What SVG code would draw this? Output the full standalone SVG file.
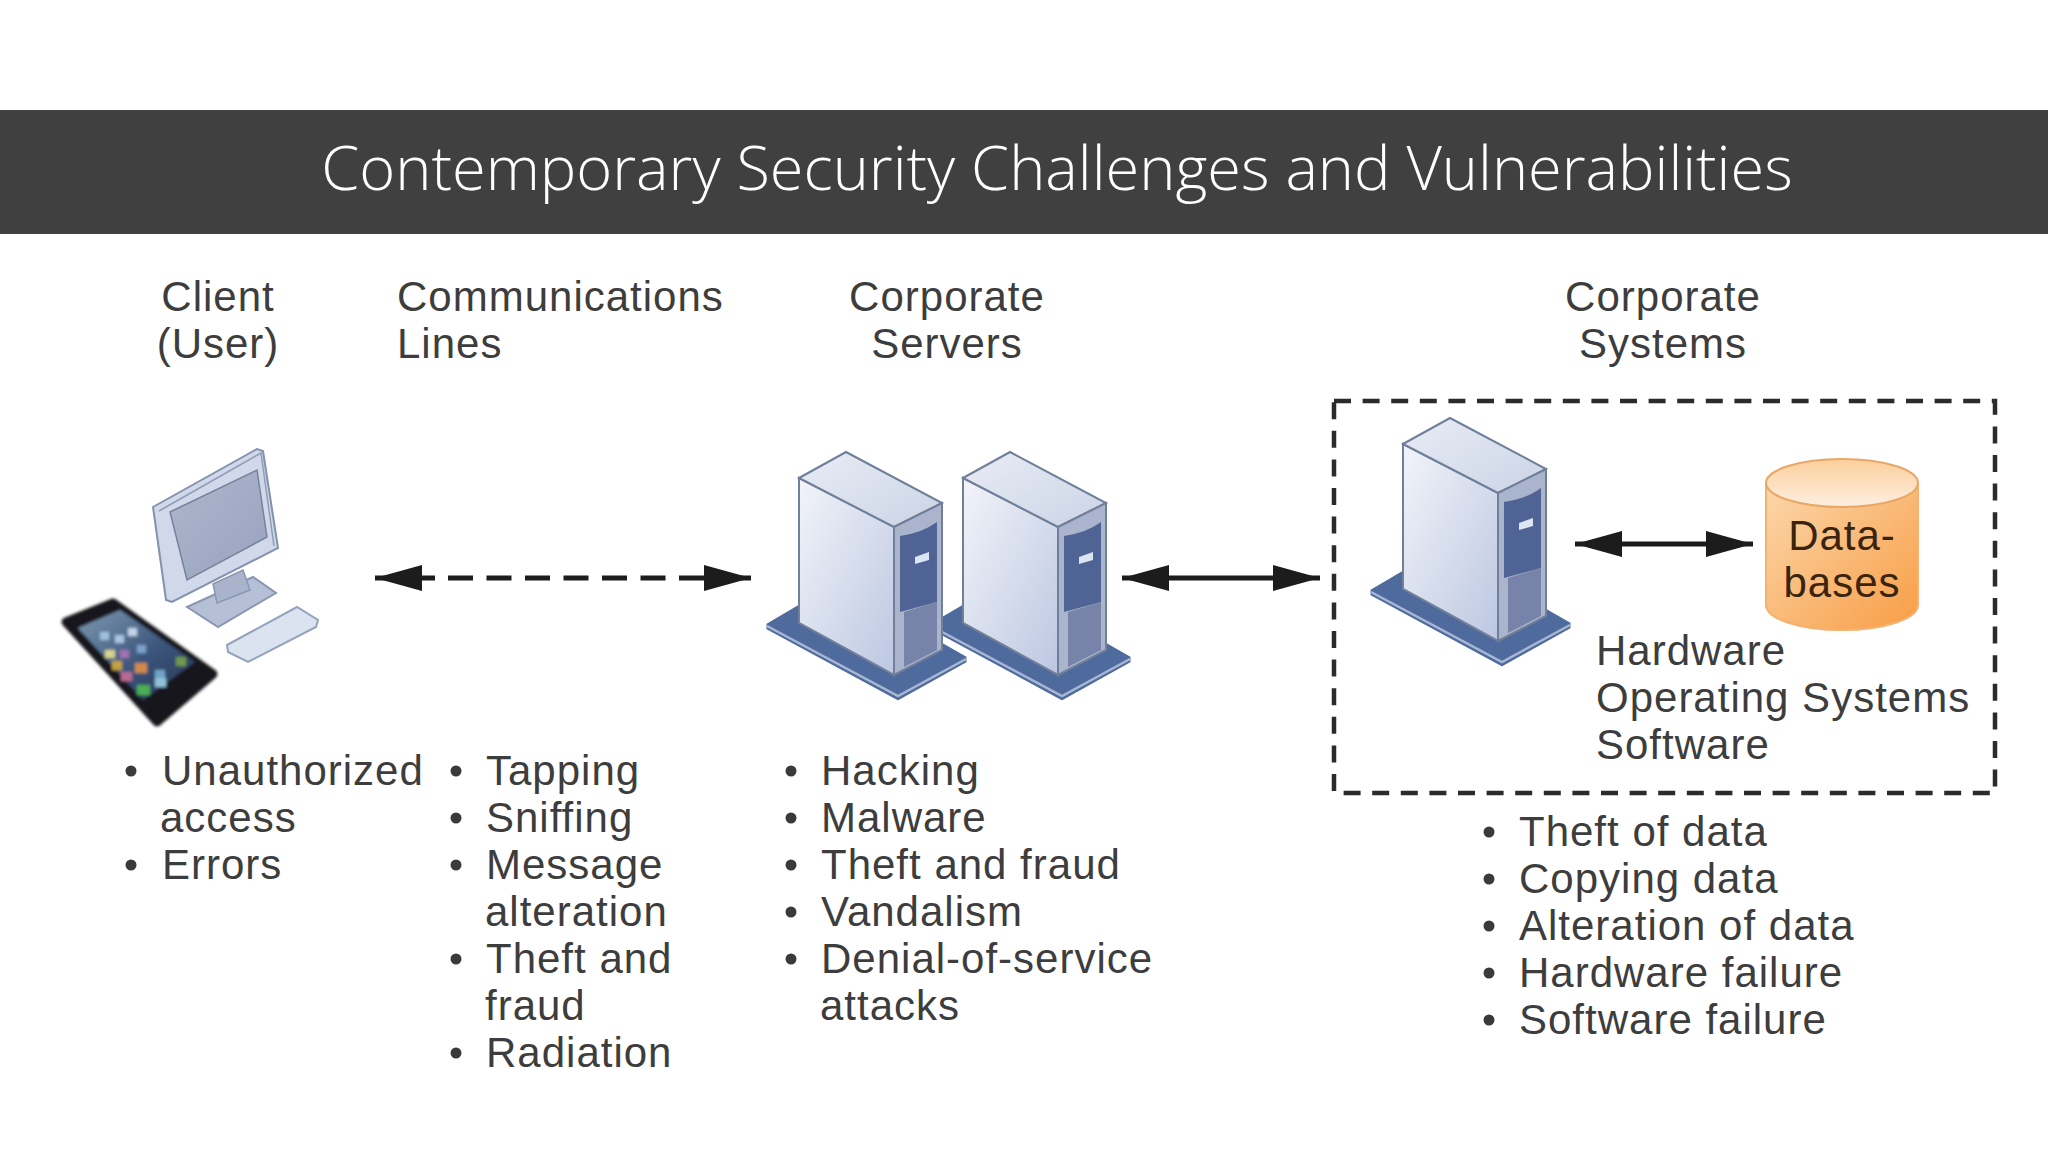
<svg xmlns="http://www.w3.org/2000/svg" width="2048" height="1152" viewBox="0 0 2048 1152">
<style>
.t{font-family:"Liberation Sans",Arial,sans-serif;font-size:42px;fill:#3d3d3d;letter-spacing:1px}
.c{text-anchor:middle}
.title{font-family:"Open Sans","Noto Sans",sans-serif;font-weight:300;font-size:61.3px;fill:#fff;text-anchor:middle}
.b{fill:#3a3a3a}
.conn{stroke:#1c1c1c;stroke-width:5;fill:none}
.o{stroke:#6f7f9a;stroke-width:2}
</style>
<defs>
<linearGradient id="side" x1="0" y1="0" x2="1" y2="1"><stop offset="0" stop-color="#f2f4f9"/><stop offset="1" stop-color="#bcc7e1"/></linearGradient>
<linearGradient id="top" x1="0" y1="0" x2="1" y2="1"><stop offset="0" stop-color="#e8ecf4"/><stop offset="1" stop-color="#cbd4e6"/></linearGradient>
<linearGradient id="db" x1="0" y1="0" x2="1" y2="1"><stop offset="0" stop-color="#fbd7ab"/><stop offset="1" stop-color="#f89d45"/></linearGradient>
<linearGradient id="dbt" x1="0" y1="0" x2="0" y2="1"><stop offset="0" stop-color="#fbcf9c"/><stop offset="1" stop-color="#fdeee0"/></linearGradient>
<linearGradient id="scr" x1="0" y1="0" x2="1" y2="1"><stop offset="0" stop-color="#aeb6cb"/><stop offset="1" stop-color="#98a3bf"/></linearGradient>
<linearGradient id="ph" x1="0" y1="0" x2="1" y2="1"><stop offset="0" stop-color="#7f9ab2"/><stop offset=".55" stop-color="#3c557c"/><stop offset="1" stop-color="#26344f"/></linearGradient>
<filter id="soft" x="-10%" y="-10%" width="120%" height="120%"><feGaussianBlur stdDeviation="1.5"/></filter>
<filter id="soft2" x="-5%" y="-5%" width="110%" height="110%"><feGaussianBlur stdDeviation=".7"/></filter>
<marker id="ah" markerUnits="userSpaceOnUse" markerWidth="50" markerHeight="30" refX="47" refY="14" orient="auto-start-reverse"><path d="M0,1 L47,14 L0,27 Z" fill="#1c1c1c"/></marker>
<g id="server" filter="url(#soft2)">
<path d="M799,603 L765,623 L765,630 L898,702 L968,663 L968,656 L940,640Z" fill="#4f6a9c" stroke="#fff" stroke-width="3" stroke-linejoin="round"/>
<path d="M767,626 L898,696 L966,659" fill="none" stroke="#a7b7d4" stroke-width="2.5"/>
<path d="M799,478 L894,527 L894,675 L799,623Z" fill="url(#side)" class="o"/>
<path d="M799,478 L846,452 L942,503 L894,527Z" fill="url(#top)" class="o"/>
<path d="M894,527 L942,503 L942,650 L894,675Z" fill="#aab4cc" class="o"/>
<path d="M900,536 Q922,533 937,522 L937,602 L900,612Z" fill="#4f6394"/>
<path d="M904,612 L937,602 L937,650 L904,667Z" fill="#7783a8"/>
<path d="M915,557 L929,552 L929,560 L915,564Z" fill="#dbe5f4"/>
</g>
</defs>
<rect width="2048" height="1152" fill="#fff"/>
<rect id="header" x="0" y="110" width="2048" height="124" fill="#404040"/>
<text class="title" x="1057" y="190">Contemporary Security Challenges and Vulnerabilities</text>

<g id="connectors">
<path class="conn" d="M375,578 H751" stroke-dasharray="60 13 25 13.5 25 13.5 25 13.5 25 13.5 25 13.5 25 13.5 80" marker-start="url(#ah)" marker-end="url(#ah)"/>
<path class="conn" d="M1122,578 H1320" marker-start="url(#ah)" marker-end="url(#ah)"/>
<path class="conn" d="M1575,544 H1753" marker-start="url(#ah)" marker-end="url(#ah)"/>
</g>

<g id="client-label"><text class="t c" x="218" y="311">Client</text><text class="t c" x="218" y="358">(User)</text></g>
<g id="comm-label"><text class="t" x="397" y="311">Communications</text><text class="t" x="397" y="358">Lines</text></g>
<g id="servers-label"><text class="t c" x="947" y="311">Corporate</text><text class="t c" x="947" y="358">Servers</text></g>
<g id="systems-label"><text class="t c" x="1663" y="311">Corporate</text><text class="t c" x="1663" y="358">Systems</text></g>

<g id="client">
<g id="monitor" filter="url(#soft2)">
<path d="M187,607 L253,577 L276,593 L218,627Z" fill="#b5bfd6" stroke="#8a97b3" stroke-width="2"/>
<path d="M153,507 L257,449 L263,451 L278,548 L172,602 L166,600Z" fill="#d0d8ea" stroke="#8492ae" stroke-width="2"/>
<path d="M159,511 L261,453 L274,546" fill="none" stroke="#8f9cb8" stroke-width="1.5"/>
<path d="M170,512 L257,470 L267,537 L187,580Z" fill="url(#scr)" stroke="#76829e" stroke-width="1.5"/>
<path d="M213,584 L243,570 L250,590 L217,603Z" fill="#a9b4cc" stroke="#8a97b3" stroke-width="1.5"/>
</g>
<path id="keyboard" d="M227,645 L297,607 L318,620 L316,627 L248,662 L228,652Z" fill="#dbe2f0" stroke="#96a3bd" stroke-width="2"/>
<g id="phone" filter="url(#soft)">
<path d="M66,622 L113,603 L213,674 L157,722Z" fill="#14151a" stroke="#14151a" stroke-width="9" stroke-linejoin="round"/>
<path d="M78,628 L120,610 L195,662 L143,700Z" fill="url(#ph)"/>
<rect x="100" y="632" width="9" height="8" fill="#9fc1dc"/><rect x="115" y="635" width="9" height="8" fill="#a9c6e0"/><rect x="128" y="628" width="9" height="8" fill="#c0d5e6"/>
<rect x="105" y="650" width="10" height="8" fill="#d7d48a"/><rect x="120" y="650" width="9" height="8" fill="#a36fb2"/><rect x="137" y="645" width="9" height="8" fill="#7ca0cb"/>
<rect x="112" y="661" width="10" height="9" fill="#c5a23a"/><rect x="135" y="663" width="12" height="10" fill="#d28b4a"/><rect x="176" y="657" width="10" height="9" fill="#6f9a4a"/>
<rect x="121" y="672" width="11" height="9" fill="#b86a92"/><rect x="155" y="670" width="10" height="9" fill="#6fa3c9"/>
<rect x="137" y="685" width="13" height="10" fill="#4cae55"/><rect x="155" y="678" width="11" height="9" fill="#8fc2d8"/>
</g>
</g>

<g id="servers"><use href="#server" x="164"/><use href="#server"/></g>

<g id="systems">
<rect id="systems-box" x="1334" y="401" width="661" height="392" fill="none" stroke="#2b2b2b" stroke-width="4.5" stroke-dasharray="17 11.6"/>
<use id="system-server" href="#server" x="604" y="-34"/>
<g id="databases">
<path d="M1766,483 V605 A76,25 0 0 0 1918,605 V483Z" fill="url(#db)" stroke="#f3b272" stroke-width="2"/>
<ellipse cx="1842" cy="483" rx="76" ry="24" fill="url(#dbt)" stroke="#e9a765" stroke-width="2"/>
<text class="t c" x="1842" y="550" style="fill:#3a2410">Data-</text>
<text class="t c" x="1842" y="597" style="fill:#3a2410">bases</text>
</g>
<text class="t" x="1596" y="665">Hardware</text>
<text class="t" x="1596" y="712">Operating Systems</text>
<text class="t" x="1596" y="759">Software</text>
</g>

<g id="client-threats">
<circle class="b" cx="131" cy="771" r="5.5"/><text class="t" x="162" y="785">Unauthorized</text><text class="t" x="160" y="832">access</text>
<circle class="b" cx="131" cy="865" r="5.5"/><text class="t" x="162" y="879">Errors</text>
</g>
<g id="comm-threats">
<circle class="b" cx="456" cy="771" r="5.5"/><text class="t" x="486" y="785">Tapping</text>
<circle class="b" cx="456" cy="818" r="5.5"/><text class="t" x="486" y="832">Sniffing</text>
<circle class="b" cx="456" cy="865" r="5.5"/><text class="t" x="486" y="879">Message</text><text class="t" x="485" y="926">alteration</text>
<circle class="b" cx="456" cy="959" r="5.5"/><text class="t" x="486" y="973">Theft and</text><text class="t" x="485" y="1020">fraud</text>
<circle class="b" cx="456" cy="1053" r="5.5"/><text class="t" x="486" y="1067">Radiation</text>
</g>
<g id="server-threats">
<circle class="b" cx="791" cy="771" r="5.5"/><text class="t" x="821" y="785">Hacking</text>
<circle class="b" cx="791" cy="818" r="5.5"/><text class="t" x="821" y="832">Malware</text>
<circle class="b" cx="791" cy="865" r="5.5"/><text class="t" x="821" y="879">Theft and fraud</text>
<circle class="b" cx="791" cy="912" r="5.5"/><text class="t" x="821" y="926">Vandalism</text>
<circle class="b" cx="791" cy="959" r="5.5"/><text class="t" x="821" y="973">Denial-of-service</text><text class="t" x="820" y="1020">attacks</text>
</g>
<g id="system-threats">
<circle class="b" cx="1489" cy="832" r="5.5"/><text class="t" x="1519" y="846">Theft of data</text>
<circle class="b" cx="1489" cy="879" r="5.5"/><text class="t" x="1519" y="893">Copying data</text>
<circle class="b" cx="1489" cy="926" r="5.5"/><text class="t" x="1519" y="940">Alteration of data</text>
<circle class="b" cx="1489" cy="973" r="5.5"/><text class="t" x="1519" y="987">Hardware failure</text>
<circle class="b" cx="1489" cy="1020" r="5.5"/><text class="t" x="1519" y="1034">Software failure</text>
</g>
</svg>
